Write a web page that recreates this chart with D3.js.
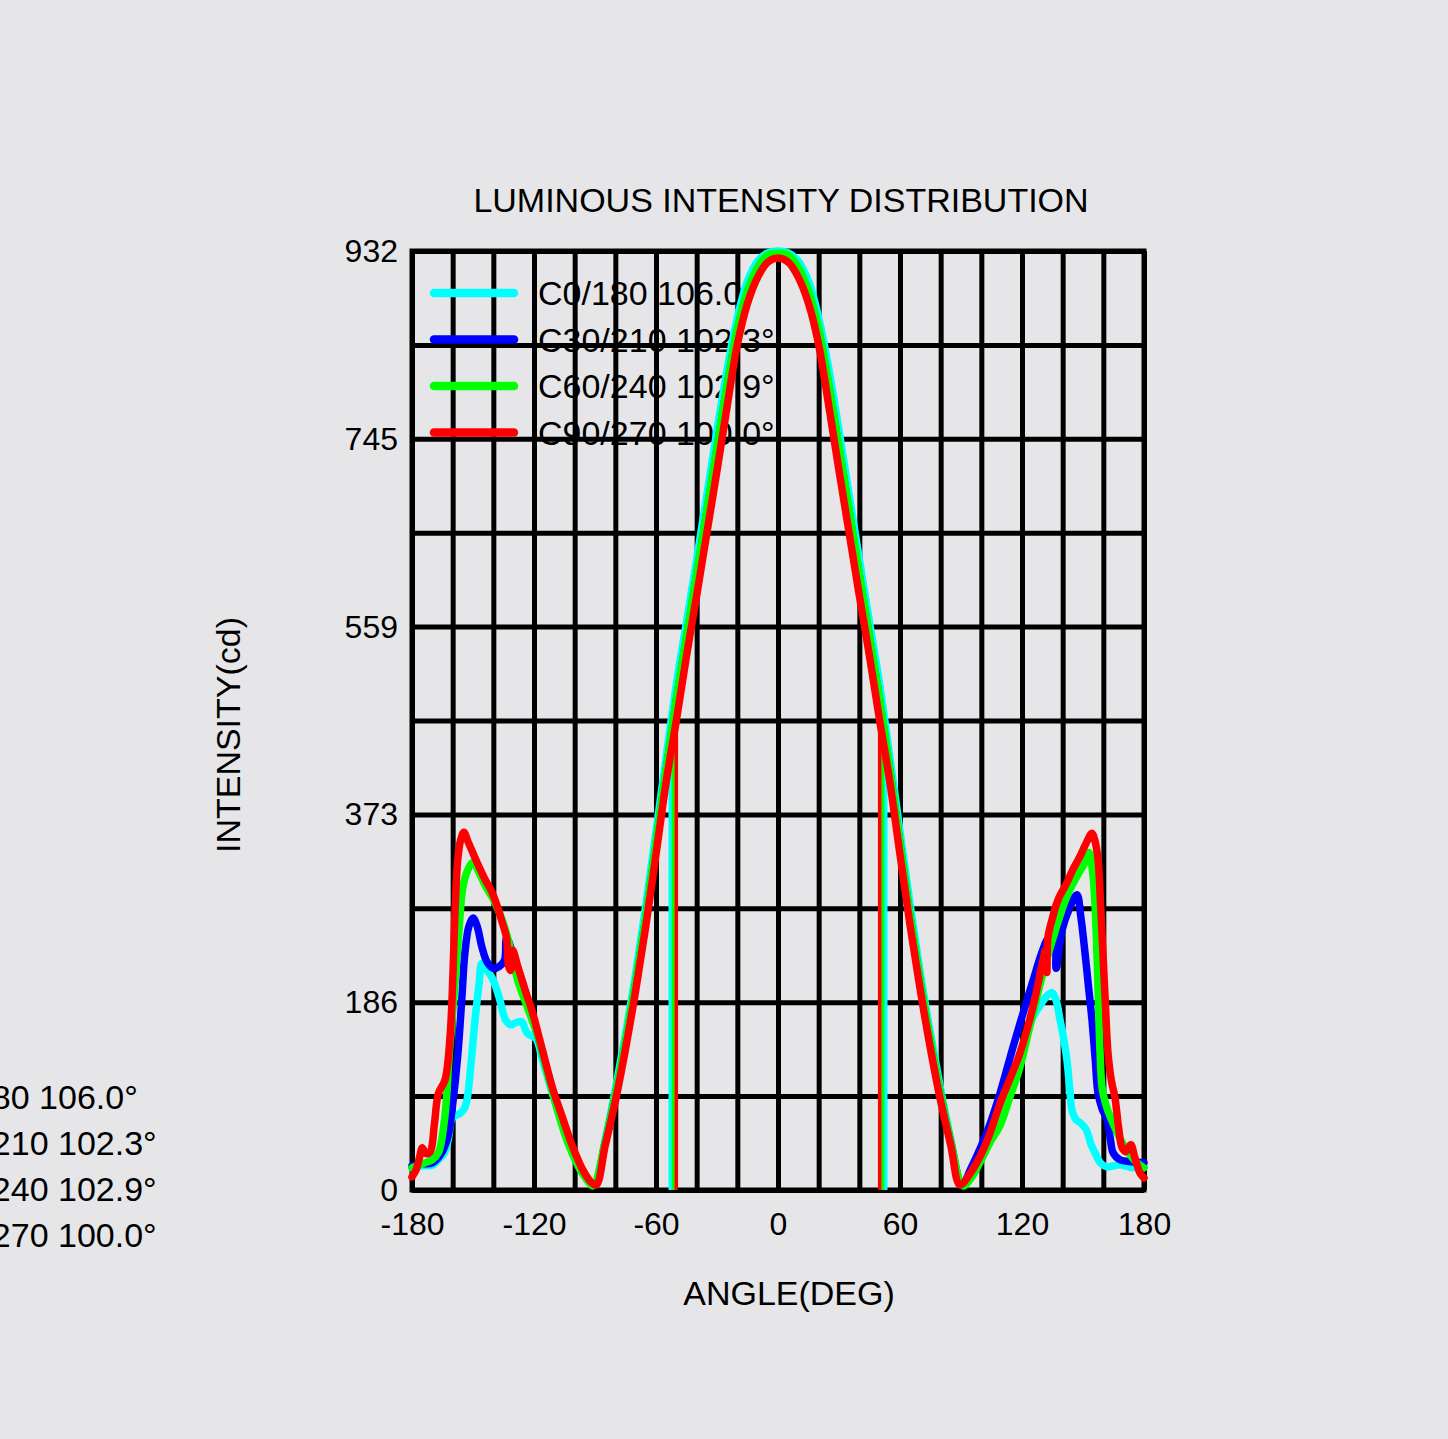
<!DOCTYPE html>
<html>
<head>
<meta charset="utf-8">
<script src="https://cdn.jsdelivr.net/npm/d3@7"></script>
<style>
  html, body { margin: 0; padding: 0; background: #e6e6e8; }
  svg { display: block; font-family: "Liberation Sans", Arial, sans-serif; }
</style>
</head>
<body>
<svg id="chart" width="1448" height="1439"></svg>
<script>
// ---- data ----
const angleTicks = [-180, -120, -60, 0, 60, 120, 180];
const intensityTicks = [0, 186, 373, 559, 745, 932];
const maxIntensity = 932;

const seriesNames = ["C0/180", "C30/210", "C60/240", "C90/270"];
const beamAngles = [106.0, 102.3, 102.9, 100.0];
const peakValues = [932, 928, 930, 925];
const seriesColors = ["#00ffff", "#0000ff", "#00ff00", "#ff0000"];

// [angle, cd]
const c0 = [[-180,22],[-175,24],[-172,24],[-169.7,25],[-166,32],[-164,37],[-162,52],[-160.5,70],[-158.5,74],[-156.4,76],[-154.5,80],[-153,89],[-151,125],[-149,169],[-147,205],[-145.6,225],[-143,218],[-140,208],[-137,190],[-134,169],[-131.5,164],[-129,166],[-126,167],[-123.5,156],[-119,150],[-116,130],[-111,96],[-106,64],[-101,36],[-96,16],[-90.5,5],
  [-85,50],[-80,100],[-75,155],[-70,215],[-65,283],[-60,356],[-55,430],[-50,502],[-45,564],[-40,626],[-35,690],[-30,754],[-25,815],[-20,866],[-15,902],[-10,922],[-5,930],[0,932],
  [5,930],[10,922],[15,902],[20,866],[25,815],[30,754],[35,690],[40,626],[45,564],[50,502],[55,430],[60,356],[65,283],[70,215],[75,155],[80,100],[85,50],[90.5,5],
  [95,16],[100,34],[105,55],[110,76],[115,105],[119,135],[122.5,156],[125.5,172],[128.9,183],[132,192],[134.8,196],[136.8,188],[138.7,169],[140.5,150],[142.1,129],[143.5,100],[144.6,79],[146.5,70],[148.5,67],[150.5,63],[152,58],[154,45],[155.9,37],[158.5,27],[161.8,23],[165,24],[168.2,25],[171,24],[174.6,22],[178,24],[180,23]];

const c30 = [[-180,24],[-175,26],[-170,27],[-166,35],[-162.3,53],[-160,85],[-157.4,136],[-155.5,190],[-154,235],[-152,262],[-150,270],[-148,262],[-145.6,241],[-143,226],[-140,220],[-137,222],[-134.5,228],[-133.5,250],[-130,232],[-126,208],[-121,174],[-116,138],[-111,100],[-106,68],[-101,40],[-96,18],[-90.5,5],
  [-85,47],[-80,94],[-75,146],[-70,205],[-65,270],[-60,343],[-55,416],[-50,486],[-45,548],[-40,610],[-35,673],[-30,736],[-25,798],[-20,853],[-15,891],[-10,914],[-5,926],[0,928],
  [5,926],[10,914],[15,891],[20,853],[25,798],[30,736],[35,673],[40,610],[45,548],[50,486],[55,416],[60,343],[65,270],[70,205],[75,146],[80,94],[85,47],[90.5,5],
  [95,22],[100,44],[104,64],[109.2,96],[115.6,142],[120,172],[125,205],[130,237],[133,250],[135.8,250],[136.8,220],[139.7,258],[143,278],[147,293],[149,270],[151,235],[152.8,200],[154.4,169],[156,130],[157.4,96],[159.5,80],[161.8,70],[163.5,50],[164.8,37],[168.2,30],[174.6,28],[180,27]];

const c60 = [[-180,22],[-176,25],[-173.6,27],[-170,30],[-167,37],[-164,70],[-161.5,140],[-159,201],[-157,255],[-155,300],[-152.5,318],[-150,325],[-147,315],[-144,302],[-140.7,291],[-137,275],[-134,258],[-131,234],[-128,208],[-123,180],[-118,152],[-113,113],[-108,76],[-103,45],[-98,23],[-94,10],[-91,4],
  [-85,48],[-80,95],[-75,148],[-70,207],[-65,272],[-60,345],[-55,418],[-50,488],[-45,550],[-40,612],[-35,675],[-30,738],[-25,800],[-20,855],[-15,893],[-10,916],[-5,928],[0,930],
  [5,928],[10,916],[15,893],[20,855],[25,800],[30,738],[35,675],[40,612],[45,550],[50,488],[55,418],[60,345],[65,272],[70,207],[75,148],[80,95],[85,48],[91,4],
  [95,12],[100,30],[104.5,48],[109,63],[114,92],[119,122],[124.5,168],[130.3,215],[136,255],[142,291],[147.5,313],[151,325],[153,335],[155,310],[156.4,260],[157.4,200],[158.4,136],[159.5,100],[162,80],[165,65],[168,52],[172,38],[176,28],[180,22]];

const c90 = [[-180,13],[-178,20],[-176,35],[-175,42],[-173,36],[-171,38],[-169,65],[-167,96],[-163.8,109],[-161.3,152],[-159.8,218],[-159,268],[-157.5,328],[-156,348],[-154.5,355],[-152.5,346],[-148,325],[-144,308],[-141,297],[-139,287],[-136,268],[-133.5,250],[-132.5,222],[-131.5,218],[-130.5,238],[-128,222],[-124,196],[-121,178],[-116,140],[-111,102],[-106,72],[-101,43],[-96,20],[-92,8],[-89.4,5],
  [-85,44],[-80,88],[-75,140],[-70,198],[-65,262],[-60,333],[-55,405],[-50,466],[-45,530],[-40,590],[-35,652],[-30,714],[-25,778],[-20,839],[-15,880],[-10,906],[-5,921],[0,925],
  [5,921],[10,906],[15,880],[20,839],[25,778],[30,714],[35,652],[40,590],[45,530],[50,466],[55,405],[60,333],[65,262],[70,198],[75,140],[80,88],[85,44],[89.5,5],
  [95,18],[100,36],[104,55],[109.2,86],[114,110],[119,136],[125.4,182],[130.3,228],[131.5,238],[132.2,216],[132.8,251],[135,270],[137.7,288],[142.1,305],[145,318],[148.5,331],[151,342],[154.4,354],[155.7,348],[157.4,328],[158.6,285],[159.8,235],[161,185],[162.3,136],[164,108],[165.7,92],[167.5,62],[169.2,42],[171,38],[173.5,45],[175.5,32],[178,17],[180,12]];

const seriesData = [c0, c30, c60, c90];

// ---- layout ----
const svg = d3.select("#chart");
const plotLeft = 412, plotRight = 1144, plotTop = 251, plotBottom = 1190;
const font = "\"Liberation Sans\", Arial, sans-serif";

var x = d3.scaleLinear().domain([-180, 180]).range([plotLeft, plotRight]);
var y = d3.scaleLinear().domain([0, maxIntensity]).range([plotBottom, plotTop]);

// title
svg.append("text")
  .attr("x", 781).attr("y", 212)
  .attr("text-anchor", "middle")
  .attr("font-size", 34)
  .text("LUMINOUS INTENSITY DISTRIBUTION");

// grid (every 20 deg, every tenth of max)
svg.append("g")
  .attr("transform", `translate(0,${plotBottom})`)
  .call(d3.axisBottom(x).tickValues(d3.range(-180, 181, 20)).tickSize(-(plotBottom - plotTop)).tickFormat(""))
  .call(g => g.select(".domain").remove())
  .call(g => g.selectAll("line").attr("stroke", "#000").attr("stroke-width", 5));

svg.append("g")
  .attr("transform", `translate(${plotLeft},0)`)
  .call(d3.axisLeft(y).tickValues(d3.range(0, 11).map(i => i * maxIntensity / 10)).tickSize(-(plotRight - plotLeft)).tickFormat(""))
  .call(g => g.select(".domain").remove())
  .call(g => g.selectAll("line").attr("stroke", "#000").attr("stroke-width", 5));

svg.append("rect")
  .attr("x", plotLeft).attr("y", plotTop)
  .attr("width", plotRight - plotLeft).attr("height", plotBottom - plotTop)
  .attr("fill", "none").attr("stroke", "#000").attr("stroke-width", 5);

// tick labels
svg.append("g")
  .attr("transform", `translate(0,${plotBottom})`)
  .call(d3.axisBottom(x).tickValues(angleTicks).tickSize(0).tickPadding(22).tickFormat(d => String(d)))
  .call(g => g.select(".domain").remove())
  .call(g => g.selectAll("text").attr("font-size", 32).attr("font-family", font).attr("fill", "#000"));

svg.append("g")
  .attr("transform", `translate(${plotLeft},0)`)
  .call(d3.axisLeft(y).tickValues(intensityTicks).tickSize(0).tickPadding(14).tickFormat(d => String(d)))
  .call(g => g.select(".domain").remove())
  .call(g => g.selectAll("text").attr("font-size", 32).attr("font-family", font).attr("fill", "#000"));

// axis titles
svg.append("text")
  .attr("x", 789).attr("y", 1305)
  .attr("text-anchor", "middle")
  .attr("font-size", 34)
  .text("ANGLE(DEG)");

svg.append("text")
  .attr("transform", "translate(240,735) rotate(-90)")
  .attr("text-anchor", "middle")
  .attr("font-size", 34)
  .text("INTENSITY(cd)");

// legend inside the plot
var legend = svg.append("g");
seriesNames.forEach(function (name, i) {
  var ly = 293 + i * 46.5;
  legend.append("line")
    .attr("x1", 434).attr("x2", 514)
    .attr("y1", ly).attr("y2", ly)
    .attr("stroke", seriesColors[i])
    .attr("stroke-width", 8.5)
    .attr("stroke-linecap", "round");
  legend.append("text")
    .attr("x", 538).attr("y", ly + 12)
    .attr("font-size", 34)
    .text(name + " " + beamAngles[i].toFixed(1) + "°");
});

// the same legend text, cut off at the left edge (as in the source image)
seriesNames.forEach(function (name, i) {
  svg.append("text")
    .attr("x", -80).attr("y", 1109 + i * 46)
    .attr("font-size", 34)
    .text(name + " " + beamAngles[i].toFixed(1) + "°");
});

// beam angle markers
seriesData.forEach(function (d, i) {
  [-1, 1].forEach(function (s) {
    svg.append("line")
      .attr("x1", x(s * beamAngles[i] / 2)).attr("x2", x(s * beamAngles[i] / 2))
      .attr("y1", y(0)).attr("y2", y(peakValues[i] / 2))
      .attr("stroke", seriesColors[i])
      .attr("stroke-width", 3.5);
  });
});

// curves
var line = d3.line()
  .x(d => x(d[0]))
  .y(d => y(d[1]))
  .curve(d3.curveCatmullRom.alpha(0.5));

seriesData.forEach(function (d, i) {
  svg.append("path")
    .datum(d)
    .attr("d", line)
    .attr("fill", "none")
    .attr("stroke", seriesColors[i])
    .attr("stroke-width", 7.5)
    .attr("stroke-linejoin", "round")
    .attr("stroke-linecap", "round");
});
</script>
</body>
</html>
